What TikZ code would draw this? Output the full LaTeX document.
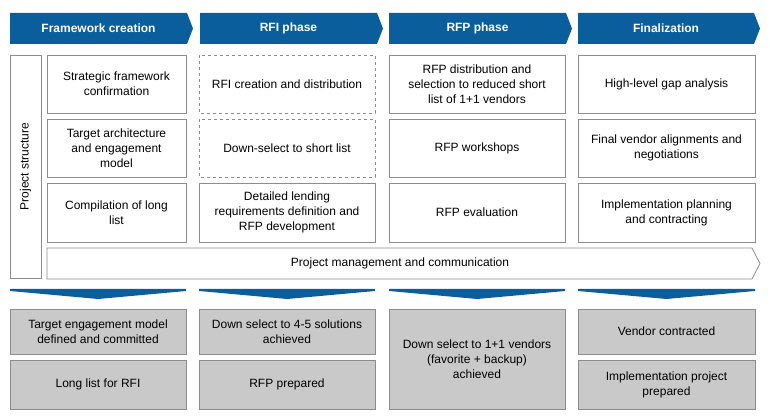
\documentclass[tikz,border=0pt]{standalone}
\usepackage{fontspec}
\setmainfont{Liberation Sans}
\begin{document}
\definecolor{hblue}{HTML}{0B5E9C}
\definecolor{gfill}{HTML}{C9C9C9}
\definecolor{bord}{HTML}{8C8C8C}
\begin{tikzpicture}[x=1pt,y=-1pt,
  txt/.style={font=\fontsize{12}{15}\selectfont, align=center},
  box/.style={draw=bord, fill=white, line width=0.8pt},
  dbox/.style={draw=bord, fill=white, dashed, line width=0.8pt},
  gbox/.style={draw=bord, fill=gfill, line width=0.8pt},
  head/.style={fill=hblue},
  htxt/.style={font=\fontsize{12}{15}\selectfont\bfseries, text=white}]
\useasboundingbox (0,0) rectangle (770,419);
% headers
\foreach \a/\b/\t [count=\i] in {10/193/Framework creation,200/383/RFI phase,389/572/RFP phase,578/760/Finalization}{
  \fill[head] (\a,13) -- (\b-6,13) -- (\b,28.5) -- (\b-6,44) -- (\a,44) -- cycle;
  \node[htxt] (h\i) at ({(\a+\b-6)/2},28.5) {\t};
}
% project structure
\draw[box] (10,55) rectangle (41,278);
\node[txt, rotate=90] (ps) at (25.5,166.5) {Project structure};
% grid boxes
\newcommand{\cell}[7]{\draw[#7] (#1,#3) rectangle (#2,#4); \node[txt] (#5) at ({(#1+#2)/2},{(#3+#4)/2}) {#6};}
\cell{47}{186}{55}{113}{a1}{Strategic framework\\confirmation}{box}
\cell{47}{186}{119}{177}{a2}{Target architecture\\and engagement\\model}{box}
\cell{47}{186}{183}{242}{a3}{Compilation of long\\list}{box}
\cell{199}{375}{55}{113}{b1}{RFI creation and distribution}{dbox}
\cell{199}{375}{119}{177}{b2}{Down-select to short list}{dbox}
\cell{199}{375}{183}{242}{b3}{Detailed lending\\requirements definition and\\RFP development}{box}
\cell{389}{565}{55}{113}{c1}{RFP distribution and\\selection to reduced short\\list of 1+1 vendors}{box}
\cell{389}{565}{119}{177}{c2}{RFP workshops}{box}
\cell{389}{565}{183}{242}{c3}{RFP evaluation}{box}
\cell{578}{755}{55}{113}{d1}{High-level gap analysis}{box}
\cell{578}{755}{119}{177}{d2}{Final vendor alignments and\\negotiations}{box}
\cell{578}{755}{183}{242}{d3}{Implementation planning\\and contracting}{box}
% project management arrow
\draw[box] (47,248) -- (752,248) -- (760,263.5) -- (752,279) -- (47,279) -- cycle;
\node[txt] (pm) at (400,263.5) {Project management and communication};
% down chevrons
\foreach \a/\b in {10/186,199/375,389/565,578/755}{
  \fill[head] (\a,289) -- (\b,289) -- (\b,291) -- ({(\a+\b)/2},299) -- (\a,291) -- cycle;
}
% bottom boxes
\cell{10}{186}{309}{354}{e1}{Target engagement model\\defined and committed}{gbox}
\cell{10}{186}{360}{409}{e2}{Long list for RFI}{gbox}
\cell{199}{375}{309}{354}{f1}{Down select to 4-5 solutions\\achieved}{gbox}
\cell{199}{375}{360}{409}{f2}{RFP prepared}{gbox}
\cell{389}{565}{309}{409}{g1}{Down select to 1+1 vendors\\(favorite + backup)\\achieved}{gbox}
\cell{578}{755}{309}{354}{k1}{Vendor contracted}{gbox}
\cell{578}{755}{360}{409}{k2}{Implementation project\\prepared}{gbox}
\end{tikzpicture}
\end{document}
